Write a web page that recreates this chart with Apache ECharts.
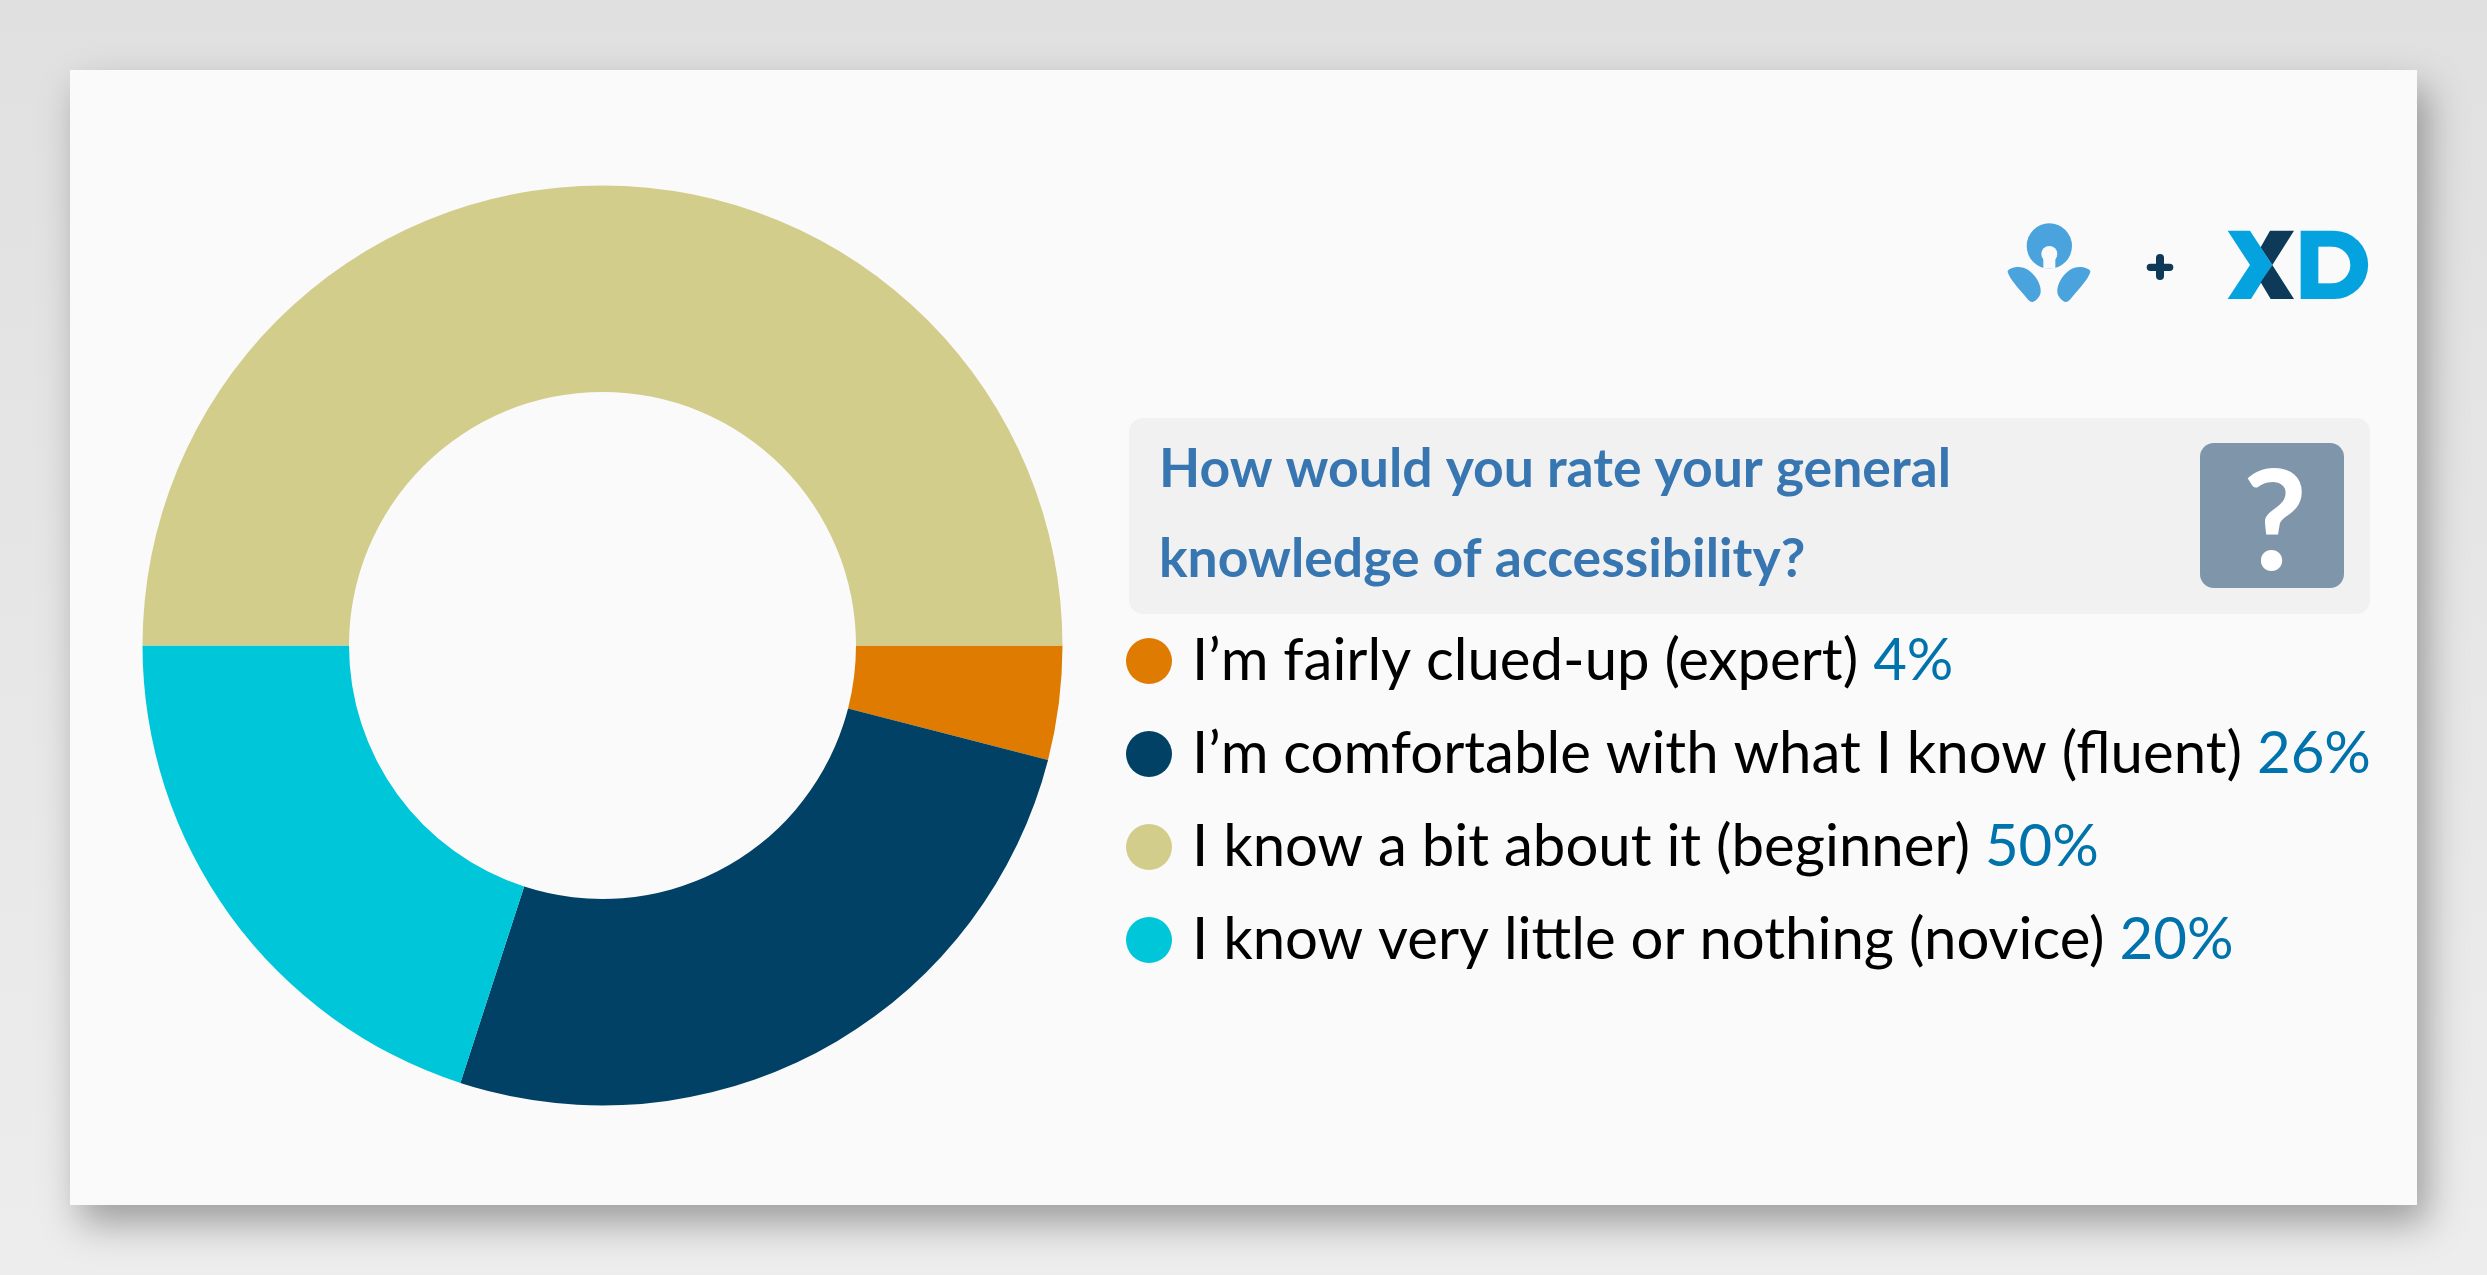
<html lang="en">
  <head>
    <meta charset="UTF-8" />
    <title>Accessibility knowledge</title>
    <style>
      html, body { margin: 0; padding: 0; }
      #main { width: 2487px; height: 1275px; }
    </style>
  </head>
  <body>
    <div id="main"></div>

    <script src="https://cdnjs.cloudflare.com/ajax/libs/echarts/6.0.0/echarts.min.js"></script>
    <script>
      const question = 'How would you rate your general\nknowledge of accessibility?'
      const categories = [
        'I’m fairly clued-up (expert)',
        'I’m comfortable with what I know (fluent)',
        'I know a bit about it (beginner)',
        'I know very little or nothing (novice)'
      ]
      const values = [4, 26, 50, 20]
      const colors = ['#df7b00', '#004165', '#d3cd8c', '#00c6d9']
      // clockwise from 3 o'clock the slices go expert, fluent, novice, beginner
      const sliceOrder = [0, 1, 3, 2]

      const FONT = 'Lato'
      const LOGO_BLUE = '#4ba3de'
      const XD_BLUE = '#05a2e0'
      const XD_DARK = '#0c3a58'
      const PANEL = '#fafafa'

      // logo was measured on a 3x crop with its corner at 1960,190
      const lx = (x) => 1960 + x / 3
      const ly = (y) => 190 + y / 3
      const pts = (list) => list.map(([x, y]) => [lx(x), ly(y)])
      const poly = (list, fill, smooth) => ({
        type: 'polygon',
        shape: { points: pts(list), smooth: smooth || 0 },
        style: { fill },
        silent: true
      })
      const box = (x0, y0, x1, y1, fill, r) => ({
        type: 'rect',
        shape: { x: lx(x0), y: ly(y0), width: (x1 - x0) / 3, height: (y1 - y0) / 3, r: r || 0 },
        style: { fill },
        silent: true
      })
      const round = (x, y, r, fill) => ({
        type: 'circle',
        shape: { cx: lx(x), cy: ly(y), r: r / 3 },
        style: { fill },
        silent: true
      })
      const halfDisc = (x, y, r, fill) => ({
        type: 'sector',
        shape: { cx: lx(x), cy: ly(y), r0: 0, r: r / 3, startAngle: -Math.PI / 2, endAngle: Math.PI / 2 },
        style: { fill },
        silent: true
      })

      const logo = [
        round(268, 168, 68, LOGO_BLUE),
        round(268, 192, 24, PANEL),
        box(250, 192, 286, 236, PANEL),
        poly([[143, 246], [170, 231], [205, 240], [235, 275], [241, 312], [217, 336], [195, 318]], LOGO_BLUE, 0.35),
        poly([[391, 246], [364, 231], [329, 240], [299, 275], [293, 312], [317, 336], [339, 318]], LOGO_BLUE, 0.35),
        box(560, 221, 640, 243, XD_DARK, 4),
        box(588, 192, 612, 270, XD_DARK, 4),
        poly([[803, 122], [870, 122], [937, 225], [873, 327], [803, 327], [870, 225]], XD_BLUE),
        poly([[930, 122], [1002, 122], [937, 225], [1002, 327], [932, 327], [902, 277], [937, 225], [902, 172]], XD_DARK),
        box(1022, 122, 1122, 327, XD_BLUE),
        halfDisc(1122, 224.5, 102.5, XD_BLUE),
        box(1075, 170, 1116, 280, PANEL),
        halfDisc(1116, 225, 55, PANEL)
      ]

      const mCharts = echarts.init(document.querySelector('#main'))
      mCharts.setOption({
        animation: false,
        backgroundColor: {
          type: 'linear', x: 0, y: 0, x2: 0, y2: 1,
          colorStops: [
            { offset: 0, color: '#e0e0e0' },
            { offset: 1, color: '#ededed' }
          ]
        },
        title: {
          text: question,
          left: 1159,
          top: 425,
          padding: 0,
          textStyle: {
            fontFamily: FONT,
            fontWeight: 'bold',
            fontSize: 53.5,
            lineHeight: 90,
            color: '#3776b0'
          }
        },
        legend: {
          orient: 'vertical',
          left: 1126,
          top: 632,
          padding: 0,
          itemWidth: 46,
          itemHeight: 46,
          itemGap: 35,
          icon: 'circle',
          selectedMode: false,
          data: categories,
          formatter: (name) => `{name|${name}}{pct|${values[categories.indexOf(name)]}%}`,
          textStyle: {
            rich: {
              name: { fontFamily: FONT, fontSize: 58.1, lineHeight: 46, color: '#000000', padding: [0, 0, 0, 15] },
              pct: { fontFamily: FONT, fontSize: 58.1, lineHeight: 46, color: '#0072ac', padding: [0, 0, 0, 15] }
            }
          }
        },
        graphic: [
          {
            type: 'rect',
            z: -10,
            shape: { x: 70, y: 70, width: 2347, height: 1135 },
            style: { fill: PANEL, shadowBlur: 36, shadowColor: 'rgba(0,0,0,0.34)', shadowOffsetX: 10, shadowOffsetY: 18 },
            silent: true
          },
          {
            type: 'rect',
            shape: { x: 1129, y: 418, width: 1241, height: 196, r: 14 },
            style: { fill: '#f1f1f1' },
            silent: true
          },
          {
            type: 'rect',
            shape: { x: 2200, y: 443, width: 144, height: 145, r: 14 },
            style: { fill: '#7f95aa' },
            silent: true
          },
          {
            type: 'text',
            style: {
              text: '?',
              x: 2275,
              y: 525,
              align: 'center',
              verticalAlign: 'middle',
              fontFamily: FONT,
              fontWeight: 'bold',
              fontSize: 140,
              fill: '#ffffff'
            },
            silent: true
          },
          ...logo
        ],
        series: [
          {
            type: 'pie',
            silent: true,
            center: [602.5, 645.5],
            radius: [253.5, 460],
            startAngle: 0,
            clockwise: true,
            label: { show: false },
            labelLine: { show: false },
            data: sliceOrder.map((i) => ({
              name: categories[i],
              value: values[i],
              itemStyle: { color: colors[i] }
            }))
          }
        ]
      })
    </script>
  </body>
</html>
